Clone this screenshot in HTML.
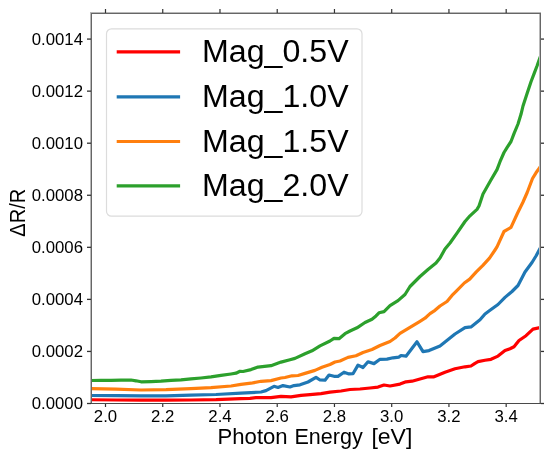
<!DOCTYPE html><html><head><meta charset="utf-8"><style>
html,body{margin:0;padding:0;background:#fff;}body{width:550px;height:456px;overflow:hidden;}
svg{display:block;}text{font-family:"Liberation Sans",sans-serif;fill:#000;}
</style></head><body>
<svg width="550" height="456" viewBox="0 0 550 456">
<rect x="0" y="0" width="550" height="456" fill="#fff"/>
<defs><clipPath id="ax"><rect x="91.0" y="13.0" width="449.0" height="390.5"/></clipPath></defs>
<g clip-path="url(#ax)" fill="none" stroke-width="3.20" stroke-linejoin="round" stroke-linecap="square">
<polyline points="88.0,399.7 116.0,400.0 141.0,400.2 166.0,400.2 191.0,400.0 216.0,399.7 241.0,398.6 250.0,398.4 256.0,397.6 271.0,397.7 281.0,396.3 291.0,396.9 301.0,395.3 310.0,394.6 321.0,393.7 330.0,392.2 341.0,391.0 350.0,389.5 360.0,389.0 370.0,388.0 378.0,387.1 384.0,385.0 390.0,386.0 400.0,384.1 406.0,381.8 412.0,381.2 420.0,379.0 428.0,376.8 434.0,376.8 445.0,372.2 455.0,368.8 465.0,366.8 471.0,366.0 475.0,363.3 478.0,361.6 485.0,360.3 491.0,359.3 498.0,356.1 505.0,350.5 510.0,348.8 514.0,346.8 519.0,340.5 526.0,335.7 533.0,329.1 540.0,327.5 543.0,327.0" stroke="#ff0000"/>
<polyline points="88.0,395.5 116.0,395.6 141.0,395.9 166.0,395.9 191.0,395.2 216.0,394.5 241.0,393.2 261.0,392.0 266.0,390.6 274.0,386.3 278.0,387.5 283.0,385.6 290.0,387.0 294.0,385.6 300.0,384.8 308.0,382.0 316.0,377.3 320.0,380.0 325.0,380.2 329.0,375.0 334.0,376.3 338.0,376.4 344.0,372.2 349.0,373.9 353.0,373.7 358.0,365.1 363.0,367.5 368.0,361.8 374.0,363.6 380.0,359.3 387.0,359.1 393.0,357.8 399.0,357.1 401.0,355.5 406.0,356.2 417.0,341.8 423.0,351.6 429.0,350.6 440.0,346.0 450.0,338.0 455.0,334.0 465.0,327.7 471.0,326.9 480.0,319.8 485.0,314.0 490.0,310.3 498.0,304.5 505.0,297.4 512.0,291.5 518.0,285.5 525.0,272.0 532.0,262.5 536.0,256.0 540.0,248.5 543.0,242.0" stroke="#1f77b4"/>
<polyline points="88.0,388.6 116.0,389.2 141.0,390.0 166.0,389.7 191.0,388.6 211.0,387.7 231.0,386.0 241.0,384.3 251.0,383.2 261.0,381.3 271.0,380.6 281.0,378.0 285.0,377.5 292.0,375.8 298.0,375.5 305.0,373.4 315.0,370.4 322.0,367.3 330.0,364.5 335.0,362.0 340.0,361.0 348.0,357.4 356.0,355.8 363.0,352.5 372.0,349.5 380.0,345.5 390.0,341.5 395.0,338.0 400.0,333.4 410.0,327.3 420.0,321.3 425.0,318.2 430.0,313.6 435.0,310.3 440.0,306.0 447.0,301.5 452.0,295.4 456.6,290.8 464.3,283.0 469.7,279.1 476.3,271.9 482.9,265.4 489.5,258.2 495.0,250.0 497.0,246.9 504.0,231.5 511.0,227.4 517.6,213.0 522.8,202.5 527.2,192.5 532.5,178.5 536.0,172.8 540.0,167.3 543.0,162.0" stroke="#ff7f0e"/>
<polyline points="88.0,380.5 101.0,380.4 111.0,380.3 121.0,380.2 131.0,380.0 136.0,380.8 141.0,381.8 151.0,381.6 161.0,381.2 171.0,380.3 181.0,379.8 191.0,378.9 201.0,378.0 211.0,376.9 221.0,375.4 231.0,374.0 236.0,373.2 240.0,371.3 243.0,371.5 251.0,369.6 258.0,367.1 271.0,365.7 281.0,362.1 290.0,359.7 295.0,358.4 305.0,353.8 312.0,350.8 320.0,345.9 330.0,341.0 334.0,338.3 339.0,338.7 345.0,333.7 350.0,331.0 357.0,327.8 365.0,322.5 372.0,319.2 376.0,315.9 379.0,312.8 384.0,311.6 390.0,305.6 398.0,300.6 405.0,294.5 410.0,286.5 420.0,276.5 428.0,269.5 436.0,263.0 440.0,258.0 445.0,249.0 450.0,243.0 457.0,233.1 465.0,221.5 470.0,215.8 477.0,209.3 479.0,206.0 483.0,194.0 490.5,180.8 497.0,169.6 500.0,161.7 504.0,152.5 507.0,147.6 511.0,141.5 514.0,133.6 518.0,124.0 521.0,114.3 523.0,106.0 527.0,93.7 531.0,81.8 534.0,73.9 537.0,66.0 540.0,57.5 543.0,50.0" stroke="#2ca02c"/>
</g>
<g stroke="#666666" fill="none" shape-rendering="crispEdges">
<rect x="90" y="12" width="1" height="392" fill="#b8b8b8" stroke="none"/>
<rect x="91" y="12" width="1" height="392" fill="#666" stroke="none"/>
<rect x="539" y="12" width="1" height="392" fill="#b8b8b8" stroke="none"/>
<rect x="540" y="12" width="1" height="392" fill="#666" stroke="none"/>
<rect x="90" y="12" width="451" height="1" fill="#b8b8b8" stroke="none"/>
<rect x="91" y="13" width="450" height="1" fill="#666" stroke="none"/>
<rect x="90" y="403" width="451" height="1" fill="#4a4a4a" stroke="none"/>
</g>
<g fill="#333" stroke="none">
<rect x="104.90" y="404" width="1.2" height="3"/>
<rect x="104.90" y="9" width="1.2" height="4"/>
<rect x="162.14" y="404" width="1.2" height="3"/>
<rect x="162.14" y="9" width="1.2" height="4"/>
<rect x="219.38" y="404" width="1.2" height="3"/>
<rect x="219.38" y="9" width="1.2" height="4"/>
<rect x="276.62" y="404" width="1.2" height="3"/>
<rect x="276.62" y="9" width="1.2" height="4"/>
<rect x="333.86" y="404" width="1.2" height="3"/>
<rect x="333.86" y="9" width="1.2" height="4"/>
<rect x="391.10" y="404" width="1.2" height="3"/>
<rect x="391.10" y="9" width="1.2" height="4"/>
<rect x="448.34" y="404" width="1.2" height="3"/>
<rect x="448.34" y="9" width="1.2" height="4"/>
<rect x="505.58" y="404" width="1.2" height="3"/>
<rect x="505.58" y="9" width="1.2" height="4"/>
<rect x="87" y="402.85" width="4" height="1.3"/>
<rect x="541" y="402.85" width="3" height="1.3"/>
<rect x="87" y="350.79" width="4" height="1.3"/>
<rect x="541" y="350.79" width="3" height="1.3"/>
<rect x="87" y="298.73" width="4" height="1.3"/>
<rect x="541" y="298.73" width="3" height="1.3"/>
<rect x="87" y="246.67" width="4" height="1.3"/>
<rect x="541" y="246.67" width="3" height="1.3"/>
<rect x="87" y="194.61" width="4" height="1.3"/>
<rect x="541" y="194.61" width="3" height="1.3"/>
<rect x="87" y="142.55" width="4" height="1.3"/>
<rect x="541" y="142.55" width="3" height="1.3"/>
<rect x="87" y="90.49" width="4" height="1.3"/>
<rect x="541" y="90.49" width="3" height="1.3"/>
<rect x="87" y="38.43" width="4" height="1.3"/>
<rect x="541" y="38.43" width="3" height="1.3"/>
</g>
<g style="filter:grayscale(1)">
<text transform="translate(105.50,421.8) scale(1.035,1)" font-size="16.2" text-anchor="middle">2.0</text>
<text transform="translate(162.74,421.8) scale(1.035,1)" font-size="16.2" text-anchor="middle">2.2</text>
<text transform="translate(219.98,421.8) scale(1.035,1)" font-size="16.2" text-anchor="middle">2.4</text>
<text transform="translate(277.22,421.8) scale(1.035,1)" font-size="16.2" text-anchor="middle">2.6</text>
<text transform="translate(334.46,421.8) scale(1.035,1)" font-size="16.2" text-anchor="middle">2.8</text>
<text transform="translate(391.70,421.8) scale(1.035,1)" font-size="16.2" text-anchor="middle">3.0</text>
<text transform="translate(448.94,421.8) scale(1.035,1)" font-size="16.2" text-anchor="middle">3.2</text>
<text transform="translate(506.18,421.8) scale(1.035,1)" font-size="16.2" text-anchor="middle">3.4</text>
<text transform="translate(82.97,409.10) scale(1.035,1)" font-size="16.2" text-anchor="end">0.0000</text>
<text transform="translate(82.97,357.04) scale(1.035,1)" font-size="16.2" text-anchor="end">0.0002</text>
<text transform="translate(82.97,304.98) scale(1.035,1)" font-size="16.2" text-anchor="end">0.0004</text>
<text transform="translate(82.97,252.92) scale(1.035,1)" font-size="16.2" text-anchor="end">0.0006</text>
<text transform="translate(82.97,200.86) scale(1.035,1)" font-size="16.2" text-anchor="end">0.0008</text>
<text transform="translate(82.97,148.80) scale(1.035,1)" font-size="16.2" text-anchor="end">0.0010</text>
<text transform="translate(82.97,96.74) scale(1.035,1)" font-size="16.2" text-anchor="end">0.0012</text>
<text transform="translate(82.97,44.68) scale(1.035,1)" font-size="16.2" text-anchor="end">0.0014</text>
<text transform="translate(217.53,444.1) scale(1.0240,1)" font-size="21.6">Photon</text>
<text transform="translate(294.48,444.1) scale(0.9978,1)" font-size="21.6">Energy</text>
<text transform="translate(371.39,444.1) scale(1.0671,1)" font-size="21.6">[eV]</text>
<text transform="translate(24.5,236.70) rotate(-90) scale(0.926,1)" font-size="21.7">ΔR/R</text>
</g>
<rect x="106.5" y="28.8" width="255.5" height="187.4" rx="5" ry="5" fill="#fff" fill-opacity="0.8" stroke="#dcdcdc" stroke-width="1.2"/>
<line x1="118.3" y1="51.80" x2="178.5" y2="51.80" stroke="#ff0000" stroke-width="3.2" stroke-linecap="square"/>
<text style="filter:grayscale(1)" transform="translate(202.03,61.85) scale(1.015,1)" font-size="31.7">Mag_0.5V</text>
<line x1="118.3" y1="96.80" x2="178.5" y2="96.80" stroke="#1f77b4" stroke-width="3.2" stroke-linecap="square"/>
<text style="filter:grayscale(1)" transform="translate(202.03,106.85) scale(1.015,1)" font-size="31.7">Mag_1.0V</text>
<line x1="118.3" y1="141.50" x2="178.5" y2="141.50" stroke="#ff7f0e" stroke-width="3.2" stroke-linecap="square"/>
<text style="filter:grayscale(1)" transform="translate(202.03,151.55) scale(1.015,1)" font-size="31.7">Mag_1.5V</text>
<line x1="118.3" y1="185.90" x2="178.5" y2="185.90" stroke="#2ca02c" stroke-width="3.2" stroke-linecap="square"/>
<text style="filter:grayscale(1)" transform="translate(202.03,195.95) scale(1.015,1)" font-size="31.7">Mag_2.0V</text>
</svg></body></html>
